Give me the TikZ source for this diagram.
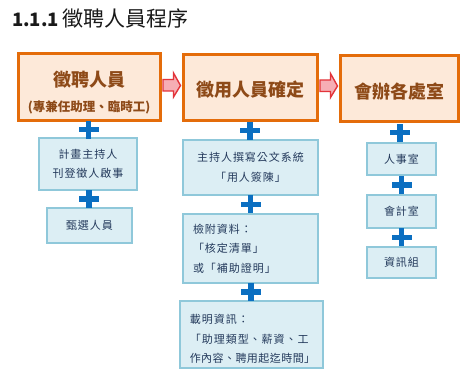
\documentclass[tikz,border=0pt]{standalone}
\usepackage{fontspec}
\setmainfont{Noto Sans CJK TC}
\newfontfamily\boxfont[LetterSpace=9]{Noto Sans CJK TC}
\newfontfamily\tightfont[LetterSpace=4]{Noto Sans CJK TC}
\usetikzlibrary{calc}
\definecolor{orangeB}{HTML}{E46C0A}
\definecolor{orangeF}{HTML}{FDE9D9}
\definecolor{brownT}{HTML}{8E4A18}
\definecolor{blueB}{HTML}{8FC8DA}
\definecolor{blueF}{HTML}{DCEEF4}
\definecolor{blueT}{HTML}{23395B}
\definecolor{plusC}{HTML}{0B6FC1}
\definecolor{arrowD}{HTML}{E3343A}
\definecolor{arrowF}{HTML}{F6AEB4}
\begin{document}
\begin{tikzpicture}[x=1pt,y=-1pt,
  obox/.style={draw=orangeB, fill=orangeF, line width=3pt, inner sep=0pt},
  otext/.style={text=brownT, font=\bfseries\fontsize{18}{20}\selectfont, inner sep=0pt},
  osub/.style={text=brownT, font=\bfseries\fontsize{12.5}{14}\selectfont, inner sep=0pt},
  bbox/.style={draw=blueB, fill=blueF, line width=2.8pt, inner xsep=10pt, inner ysep=0pt,
    text=blueT, font=\boxfont\fontsize{11}{19.5}\selectfont, align=center},
  redarrow/.style={draw=arrowD, fill=arrowF, line width=1.4pt, line join=miter},
  plussign/.pic={\fill[plusC] (-10,-2.8) rectangle (10,2.8); \fill[plusC] (-2.9,-9) rectangle (2.9,9);}
]
\useasboundingbox[fill=white] (0,0) rectangle (474,387);

% title
\node[anchor=west, inner sep=0pt, text=black!90, font=\fontsize{21}{23}\selectfont] (title) at (12,19) {{\bfseries\fontsize{18.5}{20}\selectfont 1.1.1}\,徵聘人員程序};

% orange main boxes
\node[obox, minimum width=142pt, minimum height=67pt] (o1) at (89,87.5) {};
\node[otext] (o1t) at ($(o1.center)+(0,-8)$) {徵聘人員};
\node[osub] (o1s) at ($(o1.center)+(0,20)$) {(專兼任助理、臨時工)};

\node[obox, minimum width=134pt, minimum height=66pt] (o2) at (250,88) {};
\node[otext] (o2t) at ($(o2.center)+(0,2)$) {徵用人員確定};

\node[obox, minimum width=118pt, minimum height=66pt] (o3) at (399,89) {};
\node[otext] (o3t) at ($(o3.center)+(0,3)$) {會辦各處室};

% red arrows
\draw[redarrow] ($(o1.east)+(1.5,-8)$) -- ++(10.5,0) -- ++(0,-6.5) -- ($(o2.west)+(-1,-2.5)$)
   -- ($(o1.east)+(12,9.5)$) -- ++(0,-6) -- ($(o1.east)+(1.5,3.5)$) -- cycle;
\draw[redarrow] ($(o2.east)+(1.5,-8)$) -- ++(10.5,0) -- ++(0,-6.5) -- ($(o3.west)+(-1,-3)$)
   -- ($(o2.east)+(12,9.5)$) -- ++(0,-6) -- ($(o2.east)+(1.5,3.5)$) -- cycle;

% left column
\node[bbox, minimum width=98pt, minimum height=52pt] (b1) at (88,164) {計畫主持人\\刊登徵人啟事};
\node[bbox, minimum width=85pt, minimum height=35pt] (b2) at (89.5,225.5) {甄選人員};

% middle column
\node[bbox, minimum width=135pt, minimum height=55pt] (m1) at (250.5,167.5) {主持人撰寫公文系統\\「用人簽陳」};
\node[bbox, minimum width=135pt, minimum height=69pt, text width=115pt, align=left] (m2) at (250.5,248.5) {檢附資料：\\「核定清單」\\或「補助證明」};
\node[bbox, minimum width=143pt, minimum height=67pt] (m3) at (251.5,334.5) {};
\node[anchor=west, inner sep=0pt, text=blueT, font=\boxfont\fontsize{11}{19.5}\selectfont, align=left] (m3t) at ($(m3.west)+(11,4.5)$) {載明資訊：\\「助理類型、薪資、工\\{\tightfont 作內容、聘用起迄時間」}};

% right column
\node[bbox, minimum width=69pt, minimum height=32pt] (r1) at (401.5,159) {人事室};
\node[bbox, minimum width=69pt, minimum height=33pt] (r2) at (401.5,211.5) {會計室};
\node[bbox, minimum width=69pt, minimum height=31pt] (r3) at (401.5,262.5) {資訊組};

% plus connectors
\pic at ($(o1.south)!0.5!(b1.north)$) {plussign};
\pic at ($(b1.south)!0.5!(b2.north)$) {plussign};
\pic at ($(o2.south)!0.5!(m1.north)$) {plussign};
\pic at ($(m1.south)!0.5!(m2.north)$) {plussign};
\pic at ($(m2.south)!0.5!(m3.north)$) {plussign};
\pic at ($(o3.south)!0.5!(r1.north)$) {plussign};
\pic at ($(r1.south)!0.5!(r2.north)$) {plussign};
\pic at ($(r2.south)!0.5!(r3.north)$) {plussign};
\end{tikzpicture}
\end{document}
